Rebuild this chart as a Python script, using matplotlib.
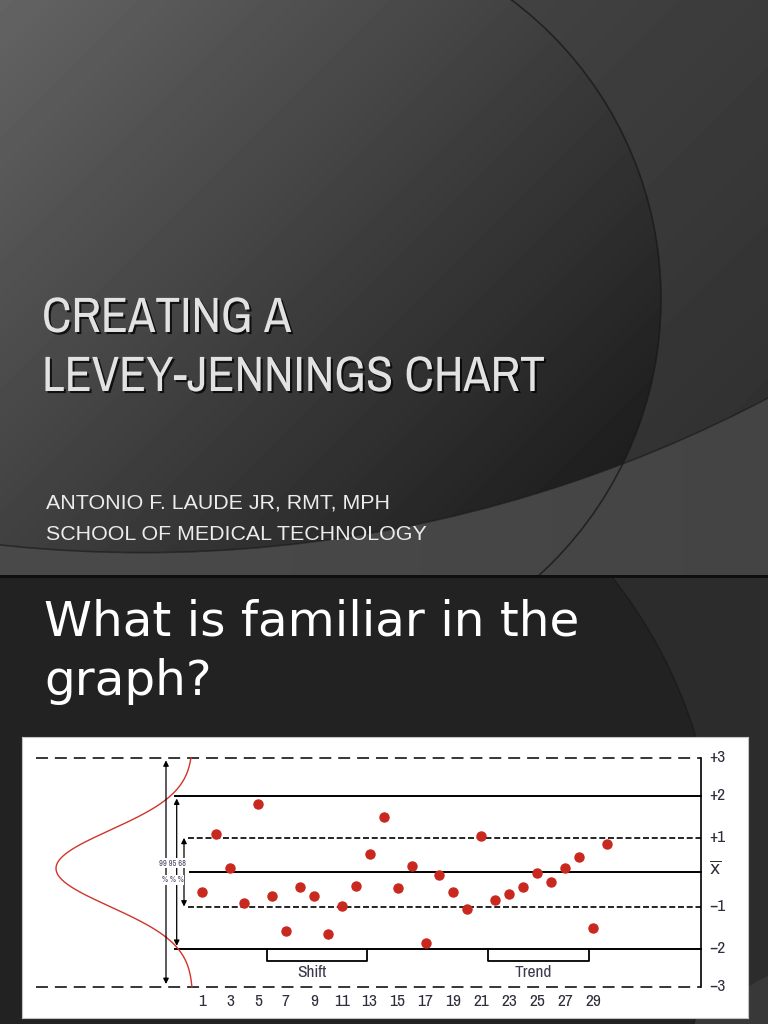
import numpy as np
import matplotlib
matplotlib.use("Agg")
import matplotlib.pyplot as plt
from matplotlib import patheffects
from matplotlib.patches import Circle, Rectangle

plt.rcParams["lines.scale_dashes"] = False

# ---------------- data ----------------
runs = list(range(1, 31))
qc_values = [-0.51, 1.01, 0.12, -0.80, 1.78, -0.62, -1.53, -0.38, -0.63, -1.62,
             -0.89, -0.36, 0.48, 1.45, -0.42, 0.16, -1.85, -0.07, -0.52, -0.96,
             0.95, -0.73, -0.58, -0.39, -0.01, -0.26, 0.11, 0.40, -1.47, 0.73]
tick_runs = list(range(1, 30, 2))
tick_labels = [str(r) for r in tick_runs]
level_pos = [3.0, 2.0, 0.9, 0.0, -0.9, -2.0, -3.0]
level_labels = ["+3", "+2", "+1", r"$\overline{\mathrm{x}}$", "\u22121", "\u22122", "\u22123"]
shift_runs = (5.63, 12.79)
trend_runs = (21.45, 28.72)

title_lines = ["CREATING A", "LEVEY-JENNINGS CHART"]
subtitle_lines = ["ANTONIO F. LAUDE JR, RMT, MPH", "SCHOOL OF MEDICAL TECHNOLOGY"]
question_lines = ["What is familiar in the", "graph?"]

NARROW = ["Archivo Narrow", "Liberation Sans"]
TITLEF = ["Archivo Narrow", "Liberation Sans"]

W, H = 768, 1024
fig = plt.figure(figsize=(W / 100, H / 100), dpi=100)

# ---------------- background ----------------
bg = fig.add_axes([0, 0, 1, 1])
bg.set_xlim(0, W)
bg.set_ylim(H, 0)
bg.axis("off")

yy, xx = np.mgrid[0:H, 0:W] + 0.5
inC = ((xx - 287) ** 2 + (yy - 299) ** 2 < 374 ** 2) | (xx < 287)
band = (xx - 143) ** 2 + (yy + 788) ** 2 > 1340.6 ** 2
v_in = 0.39 - 0.00025 * (xx + yy)
v_out = 0.31 - 0.0001 * (xx + yy)
img = np.where(inC, v_in, v_out)
img = np.where(band, 0.29 - 0.00003 * xx, img)
bot = yy >= 578
yb = yy - 578
inC2 = (xx - 234) ** 2 + (yy - 877) ** 2 < 482.7 ** 2
band2 = (xx - 143) ** 2 + (yb + 788) ** 2 > 1340.6 ** 2
v2 = np.where(inC2, 0.133, 0.172)
v2 = np.where(band2 & ~inC2, 0.22, v2)
img = np.where(bot, v2, img)
img = np.where((yy >= 575) & (yy < 578), 0.06, img)
bg.imshow(img, cmap="gray", vmin=0, vmax=1, extent=(0, W, H, 0),
          interpolation="bilinear", aspect="auto")

clip1 = Rectangle((287, 0), W - 287, 575, transform=bg.transData)
clip1b = Rectangle((0, 0), W, 575, transform=bg.transData)
clip2 = Rectangle((0, 578), W, H - 578, transform=bg.transData)
c1 = Circle((287, 299), 374, fill=False, ec="#1a1a1a", lw=1.2, alpha=0.8)
c1b = Circle((143, -788), 1340.6, fill=False, ec="#1e1e1e", lw=1.2, alpha=0.7)
c2 = Circle((234, 877), 482.7, fill=False, ec="#1a1a1a", lw=1.0, alpha=0.8)
for c, cl in ((c1, clip1), (c1b, clip1b), (c2, clip2)):
    bg.add_patch(c)
    c.set_clip_path(cl)

shadow = [patheffects.withSimplePatchShadow(offset=(1.5, -1.5), shadow_rgbFace="black", alpha=0.75)]
for txt, yb_ in zip(title_lines, [332, 391]):
    bg.text(42, yb_, txt, fontsize=35.8, family=TITLEF, color="#e2e2e2",
            va="baseline", ha="left", path_effects=shadow)
for txt, yb_ in zip(subtitle_lines, [508.5, 539.5]):
    bg.text(46, yb_, txt, fontsize=15.4, family=["Liberation Sans"], color="#ececec",
            va="baseline", ha="left")
for txt, yb_ in zip(question_lines, [635, 695]):
    bg.text(44, yb_, txt, fontsize=34.9, family=["DejaVu Sans"], color="white",
            va="baseline", ha="left")

# ---------------- chart ----------------
PX0, PXR = 202.0, 13.97      # run 1 pixel x, px per run
PY0, PYS = 872.2, 38.17      # mean pixel y, px per SD


def X(px):
    return 1 + (px - PX0) / PXR


def Y(py):
    return (PY0 - py) / PYS


bx0, bx1, by0, by1 = 22, 748, 737, 1018
ax = fig.add_axes([bx0 / W, 1 - by1 / H, (bx1 - bx0) / W, (by1 - by0) / H])
ax.set_facecolor("white")
ax.set_xlim(X(bx0), X(bx1))
ax.set_ylim(Y(by1), Y(by0))
ax.set_xticks([])
ax.set_yticks([])
for s in ax.spines.values():
    s.set_color("#c4c4c4")
    s.set_linewidth(0.8)

xr = X(701)
ax.plot([X(36), xr], [level_pos[0]] * 2, color="black", lw=1.1, dashes=(8.6, 5.0))
ax.plot([X(36), xr], [level_pos[6]] * 2, color="black", lw=1.1, dashes=(8.6, 5.0))
ax.plot([X(175), xr], [level_pos[1]] * 2, color="black", lw=1.4)
ax.plot([X(175), xr], [level_pos[5]] * 2, color="black", lw=1.4)
ax.plot([X(187.7), xr], [level_pos[2]] * 2, color="black", lw=1.2, dashes=(4.3, 2.0))
ax.plot([X(187.7), xr], [level_pos[4]] * 2, color="black", lw=1.2, dashes=(4.3, 2.0))
ax.plot([X(190.5), xr], [level_pos[3]] * 2, color="black", lw=1.4)
ax.plot([xr, xr], [level_pos[6], level_pos[0]], color="black", lw=1.2)

lab_fs = 12.5
for pos, lab in zip(level_pos, level_labels):
    yv = pos + (0.1 if lab.startswith("$") else 0.0)
    ax.text(X(709), yv, lab, fontsize=lab_fs, family=NARROW, color="#2e2e3c",
            ha="left", va="center")

# bell curve
z = np.linspace(-3.0, 3.0, 300)
bell_x = X(193) - (137 / PXR) * np.exp(-((z - 0.1) ** 2) / 2.0)
ax.plot(bell_x, z, color="#d0342a", lw=1.0)

# arrows
arrow_kw = dict(arrowstyle="<|-|>", color="black", lw=0.9, mutation_scale=8,
                shrinkA=0, shrinkB=0)
for px, half in ((166, 2.93), (176.7, 1.93), (184, 0.90)):
    ax.annotate("", xy=(X(px), half), xytext=(X(px), -half), arrowprops=arrow_kw)
ax.text(X(173), Y(863), "99 95 68", fontsize=6, family=NARROW, color="#4a4a6a",
        ha="center", va="center", bbox=dict(fc="white", ec="none", pad=0.2))
ax.text(X(173), Y(880), "% % %", fontsize=6, family=NARROW, color="#4a4a6a",
        ha="center", va="center", bbox=dict(fc="white", ec="none", pad=0.2))

# data points
ax.plot(runs, qc_values, linestyle="none", marker="o", ms=6.5,
        color="#c8281e", mec="#c8281e")

# brackets
for (r0, r1), name in ((shift_runs, "Shift"), (trend_runs, "Trend")):
    ax.plot([r0, r0, r1, r1], [-2.0, Y(961), Y(961), -2.0], color="black", lw=1.3)
    ax.text((r0 + r1) / 2 - 0.35, Y(972.5), name, fontsize=lab_fs, family=NARROW,
            color="#3a3a4c", ha="center", va="center")

# x labels
for r, lab in zip(tick_runs, tick_labels):
    ax.text(r, Y(1001.5), lab, fontsize=lab_fs, family=NARROW, color="#2e2e3c",
            ha="center", va="center")

fig.savefig("out.png", dpi=100)
